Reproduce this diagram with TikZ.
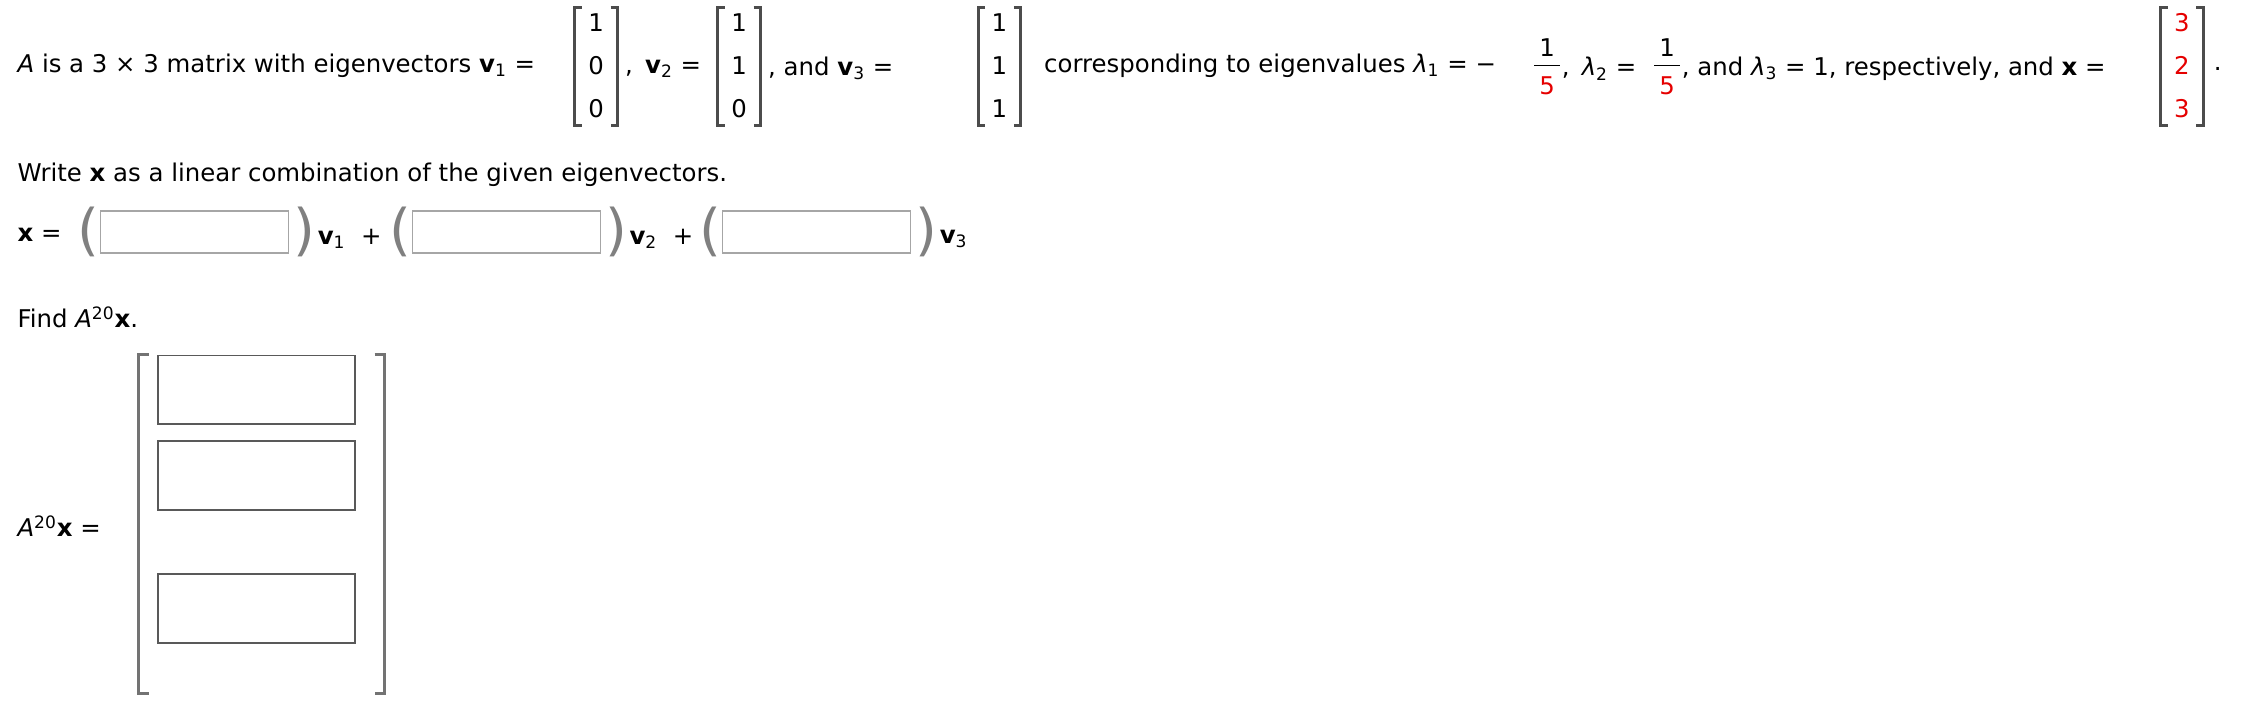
\documentclass[tikz,border=0pt]{standalone}
\usepackage{fontspec}
\setmainfont{DejaVu Sans}
\begin{document}
\begin{tikzpicture}[x=0.715pt,y=-0.715pt,font=\fontsize{12.2}{14}\selectfont,
  t/.style={inner sep=0pt,anchor=west},
  c/.style={inner sep=0pt,anchor=center},
  br/.style={line width=1.5pt,draw=black!70},
  gbr/.style={line width=1.8pt,draw=black!55},
  inbox/.style={draw=black!35,line width=0.7pt,fill=white},
  ansbox/.style={draw=black!65,line width=0.8pt},
  red/.style={text=red!90!black}]
\useasboundingbox (0,0) rectangle (1568,509);
\newcommand{\brk}[3]{%
  \draw[br] (#1+5,5) -- (#1,5) -- (#1,88) -- (#1+5,88);
  \draw[br] (#2-5,5) -- (#2,5) -- (#2,88) -- (#2-5,88);}
\node[t] (l1) at (12,46) {\textit{A} is a 3 × 3 matrix with eigenvectors \textbf{v}\textsubscript{1} =};
\brk{402}{432}{a}
\node[c] (a1) at (417,16) {1}; \node[c] (a2) at (417,46) {0}; \node[c] (a3) at (417,76) {0};
\node[t] (l2) at (437,48) {,\enspace \textbf{v}\textsubscript{2} =};
\brk{502}{532}{b}
\node[c] (b1) at (517,16) {1}; \node[c] (b2) at (517,46) {1}; \node[c] (b3) at (517,76) {0};
\node[t] (l3) at (537,48) {, and \textbf{v}\textsubscript{3} =};
\brk{684}{714}{c}
\node[c] (c1) at (699,16) {1}; \node[c] (c2) at (699,46) {1}; \node[c] (c3) at (699,76) {1};
\node[t] (l4) at (730,46) {corresponding to eigenvalues \textit{λ}\textsubscript{1} = −};
\node[c] (f1n) at (1082,33) {1}; \draw (1073,46) -- (1091,46); \node[c,red] (f1d) at (1082,60) {5};
\node[t] (l5) at (1092,48) {,\enspace\textit{λ}\textsubscript{2} =};
\node[c] (f2n) at (1166,33) {1}; \draw (1157,46) -- (1175,46); \node[c,red] (f2d) at (1166,60) {5};
\node[t] (l6) at (1176,48) {, and \textit{λ}\textsubscript{3} = 1, respectively, and \textbf{x} =};
\brk{1511}{1541}{d}
\node[c,red] (d1) at (1526,16) {3}; \node[c,red] (d2) at (1526,46) {2}; \node[c,red] (d3) at (1526,76) {3};
\node[t] (dot) at (1548,48) {.};
\node[t] (w) at (12,122) {Write \textbf{x} as a linear combination of the given eigenvectors.};
\node[t] (xeq) at (12,164) {\textbf{x} =};
\foreach \xo/\i in {57/1,275/2,492/3}{
  \node[c,text=black!50,font=\fontsize{28}{28}\selectfont] (lp\i) at (\xo+5,162) {(};
  \node[inbox,minimum width=94pt,minimum height=21pt,anchor=north west] (in\i) at (\xo+13,147) {};
  \node[c,text=black!50,font=\fontsize{28}{28}\selectfont] (rp\i) at (\xo+156,162) {)};
  \node[t] (v\i) at (\xo+165,167) {\textbf{v}\textsubscript{\i}\ifnum\i<3\ \ +\fi};
}
\node[t] (find) at (12,222) {Find \textit{A}\textsuperscript{20}\textbf{x}.};
\node[t] (aeq) at (12,368) {\textit{A}\textsuperscript{20}\textbf{x} =};
\draw[gbr] (104,248) -- (97,248) -- (97,485) -- (104,485);
\draw[gbr] (262,248) -- (269,248) -- (269,485) -- (262,485);
\node[ansbox,minimum width=98.5pt,minimum height=34.3pt,anchor=north west] (r1) at (110,248) {};
\node[ansbox,minimum width=98.5pt,minimum height=34.3pt,anchor=north west] (r2) at (110,308) {};
\node[ansbox,minimum width=98.5pt,minimum height=34.3pt,anchor=north west] (r3) at (110,401) {};
\end{tikzpicture}
\end{document}
